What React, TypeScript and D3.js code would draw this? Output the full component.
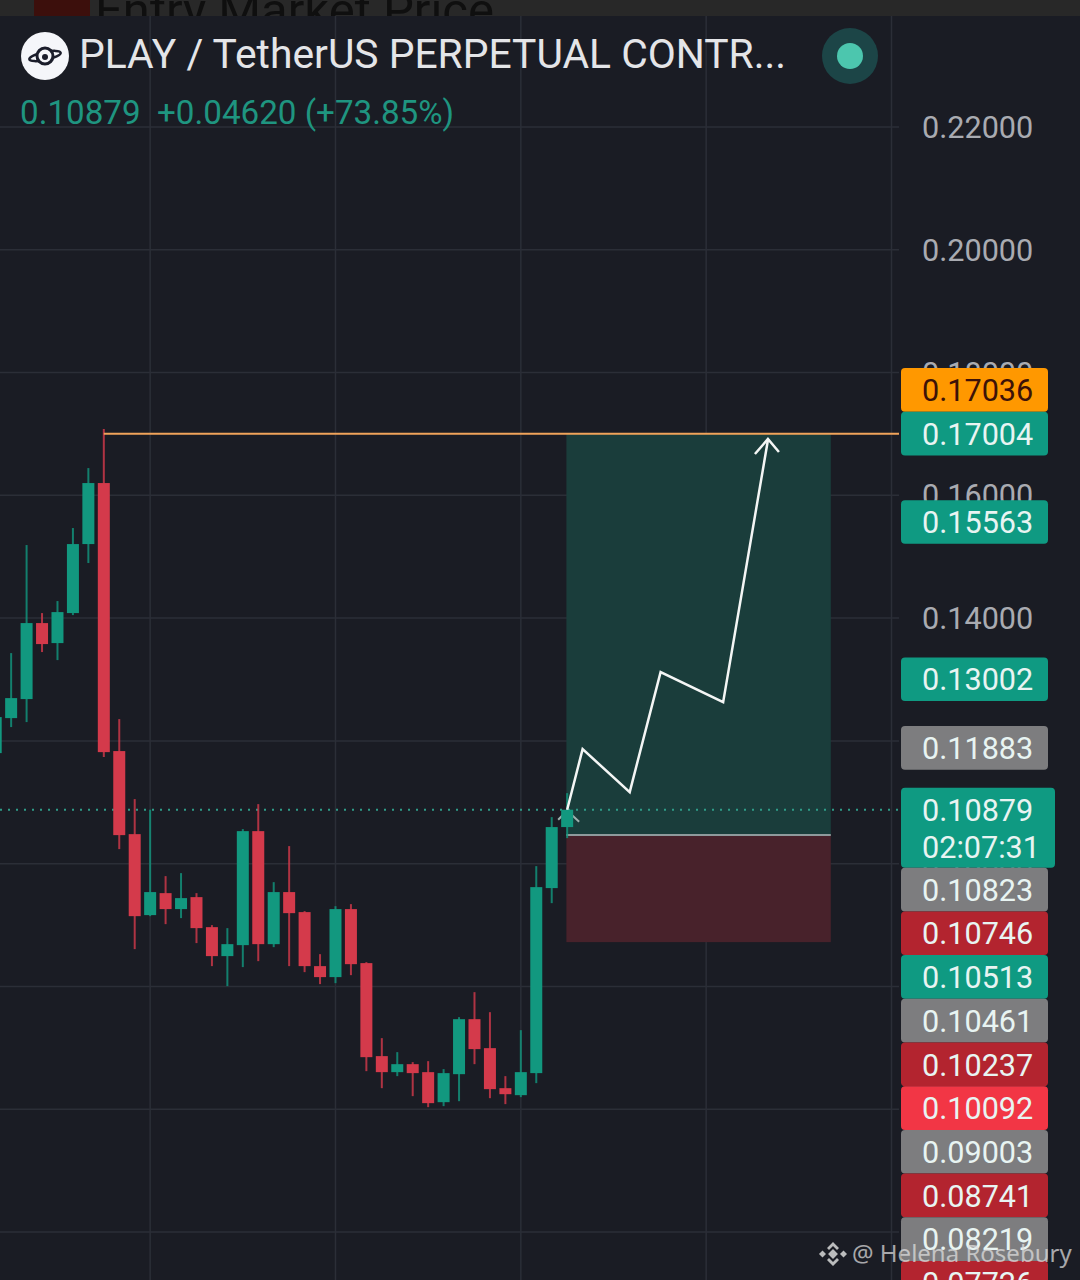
import * as d3 from 'd3';

const WIDTH = 1080;
const HEIGHT = 1280;

// Candles (the chart is cut off on the left)
const openPrices = [0.11801, 0.12371, 0.12681, 0.13919, 0.13593, 0.14082, 0.15206, 0.162, 0.11834, 0.10481, 0.09162, 0.0952, 0.0926, 0.09455, 0.08966, 0.08494, 0.08673, 0.1053, 0.08689, 0.09537, 0.09211, 0.08331, 0.08152, 0.0926, 0.0838, 0.06865, 0.06604, 0.06734, 0.06604, 0.06115, 0.06571, 0.07467, 0.06995, 0.06343, 0.06229, 0.06588, 0.09602, 0.10596];
const highPrices = [0.12665, 0.1343, 0.1519, 0.14082, 0.14278, 0.15467, 0.16444, 0.1708, 0.12355, 0.11052, 0.10879, 0.09797, 0.09846, 0.0952, 0.08999, 0.0895, 0.10563, 0.1097, 0.09699, 0.10286, 0.09227, 0.08526, 0.09308, 0.09341, 0.08396, 0.07158, 0.0693, 0.06767, 0.06783, 0.06653, 0.075, 0.07907, 0.07581, 0.06539, 0.07288, 0.0996, 0.10758, 0.11149];
const lowPrices = [0.11752, 0.12225, 0.12306, 0.13447, 0.13316, 0.14049, 0.14897, 0.11736, 0.10237, 0.08608, 0.09145, 0.09015, 0.09113, 0.08706, 0.08331, 0.08005, 0.08315, 0.08412, 0.0864, 0.08331, 0.08233, 0.08038, 0.08054, 0.08184, 0.0662, 0.06343, 0.06539, 0.06213, 0.06034, 0.0605, 0.06131, 0.06734, 0.0618, 0.06083, 0.06197, 0.06425, 0.09357, 0.10416];
const closePrices = [0.12388, 0.12697, 0.13919, 0.13577, 0.14098, 0.15206, 0.162, 0.11817, 0.10465, 0.09145, 0.09537, 0.0926, 0.09439, 0.0895, 0.08494, 0.08689, 0.1053, 0.08689, 0.09537, 0.09194, 0.08331, 0.08152, 0.0926, 0.08363, 0.06848, 0.06604, 0.06734, 0.06588, 0.06099, 0.06588, 0.07467, 0.06979, 0.06327, 0.06245, 0.06604, 0.09618, 0.10596, 0.10879];

const priceTicks = [0.22, 0.2, 0.18, 0.16, 0.14, 0.12, 0.1, 0.08, 0.06, 0.04];
const timeTicks = [10, 22, 34, 46, 58];

// Long position tool
const entryPrice = 0.10465;
const targetPrice = 0.17004;
const stopPrice = 0.08722;
const positionStart = 36.95;
const positionEnd = 54.07;

// Hand drawn arrow
const arrowIndex = [37, 38, 41.05, 43.05, 47.1, 50];
const arrowPrice = [0.10879, 0.11866, 0.11166, 0.13121, 0.12632, 0.16901];

const lastPrice = 0.10879;
const targetLineStart = 7;

// Tags on the price axis, top to bottom
const tagPrices = [0.17004, 0.15563, 0.13002, 0.11883, 0.10879, 0.10823, 0.10746, 0.10513, 0.10461, 0.10237, 0.10092, 0.09003, 0.08741, 0.08219, 0.07726];
const tagColors = ['#0f9a82', '#0f9a82', '#0f9a82', '#7d7d7f', '#0f9a82', '#7d7d7f', '#b3242f', '#0f9a82', '#7d7d7f', '#b3242f', '#f23645', '#7d7d7f', '#b3242f', '#7d7d7f', '#b3242f'];

const BG = '#1a1c24';
const GRID = '#2b2e37';
const UP = '#12987f';
const DOWN = '#d43a4b';
const TAG_H = 43.7;
const TAG_FONT = 30.6;
const FONT = 'Roboto, sans-serif';

const yScale = d3.scaleLinear().domain([0.04, 0.22]).range([1232, 127]);
const xScale = d3.scaleLinear().domain([0, 58]).range([-4.3, 891.5]);
const fmt = d3.format('.5f');

// Tags keep to their price unless the one above pushes them down
const tagTops: number[] = [];
tagPrices.forEach((p, i) => {
  const own = yScale(p) - 22;
  tagTops.push(i === 0 ? own : Math.max(own, tagTops[i - 1] + (tagPrices[i - 1] === lastPrice ? 80 : TAG_H)));
});

const arrowLine = d3
  .line<number>()
  .x((d) => xScale(d))
  .y((_, i) => yScale(arrowPrice[i]));

export default function App() {
  const tipX = xScale(arrowIndex[arrowIndex.length - 1]);
  const tipY = yScale(arrowPrice[arrowPrice.length - 1]);
  const startX = xScale(arrowIndex[0]);
  const startY = yScale(arrowPrice[0]);

  return (
    <svg
      width={WIDTH}
      height={HEIGHT}
      style={{ position: 'absolute', left: 0, top: 0, background: BG }}
      fontFamily={FONT}
    >
      <defs>
        <clipPath id="strip">
          <rect x={0} y={0} width={WIDTH} height={16} />
        </clipPath>
      </defs>

      {/* piece of the screen above the chart */}
      <rect x={0} y={0} width={WIDTH} height={16} fill="#282828" />
      <g clipPath="url(#strip)">
        <rect x={34} y={-10} width={56} height={40} fill="#3c0f0c" />
        <text x={95} y={27} fontSize={49} fill="#0f0f0f">
          Entry Market Price
        </text>
      </g>

      {/* grid */}
      {priceTicks.map((t) => (
        <line key={t} x1={0} x2={899} y1={yScale(t)} y2={yScale(t)} stroke={GRID} strokeWidth={1.5} />
      ))}
      {timeTicks.map((t) => (
        <line key={t} x1={xScale(t)} x2={xScale(t)} y1={16} y2={HEIGHT} stroke={GRID} strokeWidth={1.5} />
      ))}
      {priceTicks.map((t) => (
        <text key={t} x={922} y={yScale(t) + 11} fontSize={TAG_FONT} fill="#a9abb1">
          {fmt(t)}
        </text>
      ))}

      {/* position zones */}
      <rect
        x={xScale(positionStart)}
        width={xScale(positionEnd) - xScale(positionStart)}
        y={yScale(targetPrice)}
        height={yScale(entryPrice) - yScale(targetPrice)}
        fill="#1a3d3b"
      />
      <rect
        x={xScale(positionStart)}
        width={xScale(positionEnd) - xScale(positionStart)}
        y={yScale(entryPrice)}
        height={yScale(stopPrice) - yScale(entryPrice)}
        fill="#48222b"
      />
      <line
        x1={xScale(positionStart)}
        x2={xScale(positionEnd)}
        y1={yScale(entryPrice)}
        y2={yScale(entryPrice)}
        stroke="#8f9a9c"
        strokeWidth={2}
      />

      {/* last price line */}
      <line
        x1={0}
        x2={900}
        y1={yScale(lastPrice)}
        y2={yScale(lastPrice)}
        stroke="#2f9c88"
        strokeWidth={2}
        strokeDasharray="2 6"
      />

      {/* tail of the arrow sits behind the last candle */}
      <path
        d={`M${startX - 9},${startY + 10}L${startX},${startY + 1}L${startX + 12},${startY + 12}`}
        fill="none"
        stroke="#9fb0ae"
        strokeWidth={2}
      />

      {/* candles */}
      {openPrices.map((open, i) => {
        const close = closePrices[i];
        const color = close >= open ? UP : DOWN;
        const top = yScale(Math.max(open, close));
        const bottom = yScale(Math.min(open, close));
        return (
          <g key={i}>
            <line
              x1={xScale(i)}
              x2={xScale(i)}
              y1={yScale(highPrices[i])}
              y2={yScale(lowPrices[i])}
              stroke={color}
              strokeOpacity={0.8}
              strokeWidth={2}
            />
            <rect x={xScale(i) - 6} width={12} y={top} height={Math.max(bottom - top, 1)} fill={color} />
          </g>
        );
      })}

      {/* target line */}
      <line
        x1={xScale(targetLineStart)}
        x2={899}
        y1={yScale(targetPrice)}
        y2={yScale(targetPrice)}
        stroke="#f0a35a"
        strokeWidth={2}
      />

      {/* arrow */}
      <path d={arrowLine(arrowIndex) ?? ''} fill="none" stroke="#f4f6f5" strokeWidth={2.5} />
      <path
        d={`M${tipX - 13},${tipY + 14}L${tipX},${tipY - 1}L${tipX + 11},${tipY + 12}`}
        fill="none"
        stroke="#f4f6f5"
        strokeWidth={2.5}
      />

      {/* header */}
      <circle cx={45} cy={56} r={24} fill="#f5f6fa" />
      <ellipse cx={45} cy={56} rx={16} ry={4} fill="none" stroke="#1b1d2b" strokeWidth={2.5} transform="rotate(-12 45 56)" />
      <circle cx={45} cy={56} r={8} fill="#f5f6fa" stroke="#1b1d2b" strokeWidth={3} />
      <circle cx={45} cy={57} r={3} fill="#1b1d2b" />
      <text x={79} y={68} fontSize={40.8} fill="#e4e5e8">
        PLAY / TetherUS PERPETUAL CONTR...
      </text>
      <circle cx={850} cy={56} r={28} fill="#1c4547" />
      <circle cx={850} cy={56} r={13} fill="#4cc6ae" />
      <text x={20} y={124} fontSize={33.2} fill="#1f9580">
        {fmt(lastPrice)}
      </text>
      <text x={157} y={124} fontSize={33.2} fill="#1f9580">
        +0.04620 (+73.85%)
      </text>

      {/* price tags */}
      <rect x={901} y={tagTops[0] - TAG_H} width={147} height={TAG_H} rx={4} fill="#ff9800" />
      <text x={922} y={tagTops[0] - TAG_H + 33} fontSize={TAG_FONT} fill="#3d1208">
        0.17036
      </text>
      {tagPrices.map((p, i) => {
        const isLast = p === lastPrice;
        return (
          <g key={p}>
            <rect
              x={901}
              y={tagTops[i]}
              width={isLast ? 154 : 147}
              height={isLast ? 80 : TAG_H}
              rx={4}
              fill={tagColors[i]}
            />
            <text x={922} y={tagTops[i] + 33} fontSize={TAG_FONT} fill="#e8f4f2">
              {fmt(p)}
            </text>
            {isLast && (
              <text x={922} y={tagTops[i] + 70} fontSize={TAG_FONT} fill="#e8f4f2">
                02:07:31
              </text>
            )}
          </g>
        );
      })}

      {/* watermark */}
      <g fill="#d8d8d8" fillOpacity={0.85} transform="translate(833 1254)">
        <rect x={-3.5} y={-3.5} width={7} height={7} transform="rotate(45)" />
        <rect x={-13} y={-2.5} width={5} height={5} transform="rotate(45 -10.5 0)" />
        <rect x={8} y={-2.5} width={5} height={5} transform="rotate(45 10.5 0)" />
        <path d="M-6,-6 L0,-12 L6,-6 L4,-4 L0,-8 L-4,-4Z M-6,6 L0,12 L6,6 L4,4 L0,8 L-4,4Z" />
      </g>
      <text x={852} y={1262} fontSize={24} fill="#e0e0e0" fillOpacity={0.72} fontFamily="'Noto Sans', sans-serif">
        @ Helena Rosebury
      </text>
    </svg>
  );
}
